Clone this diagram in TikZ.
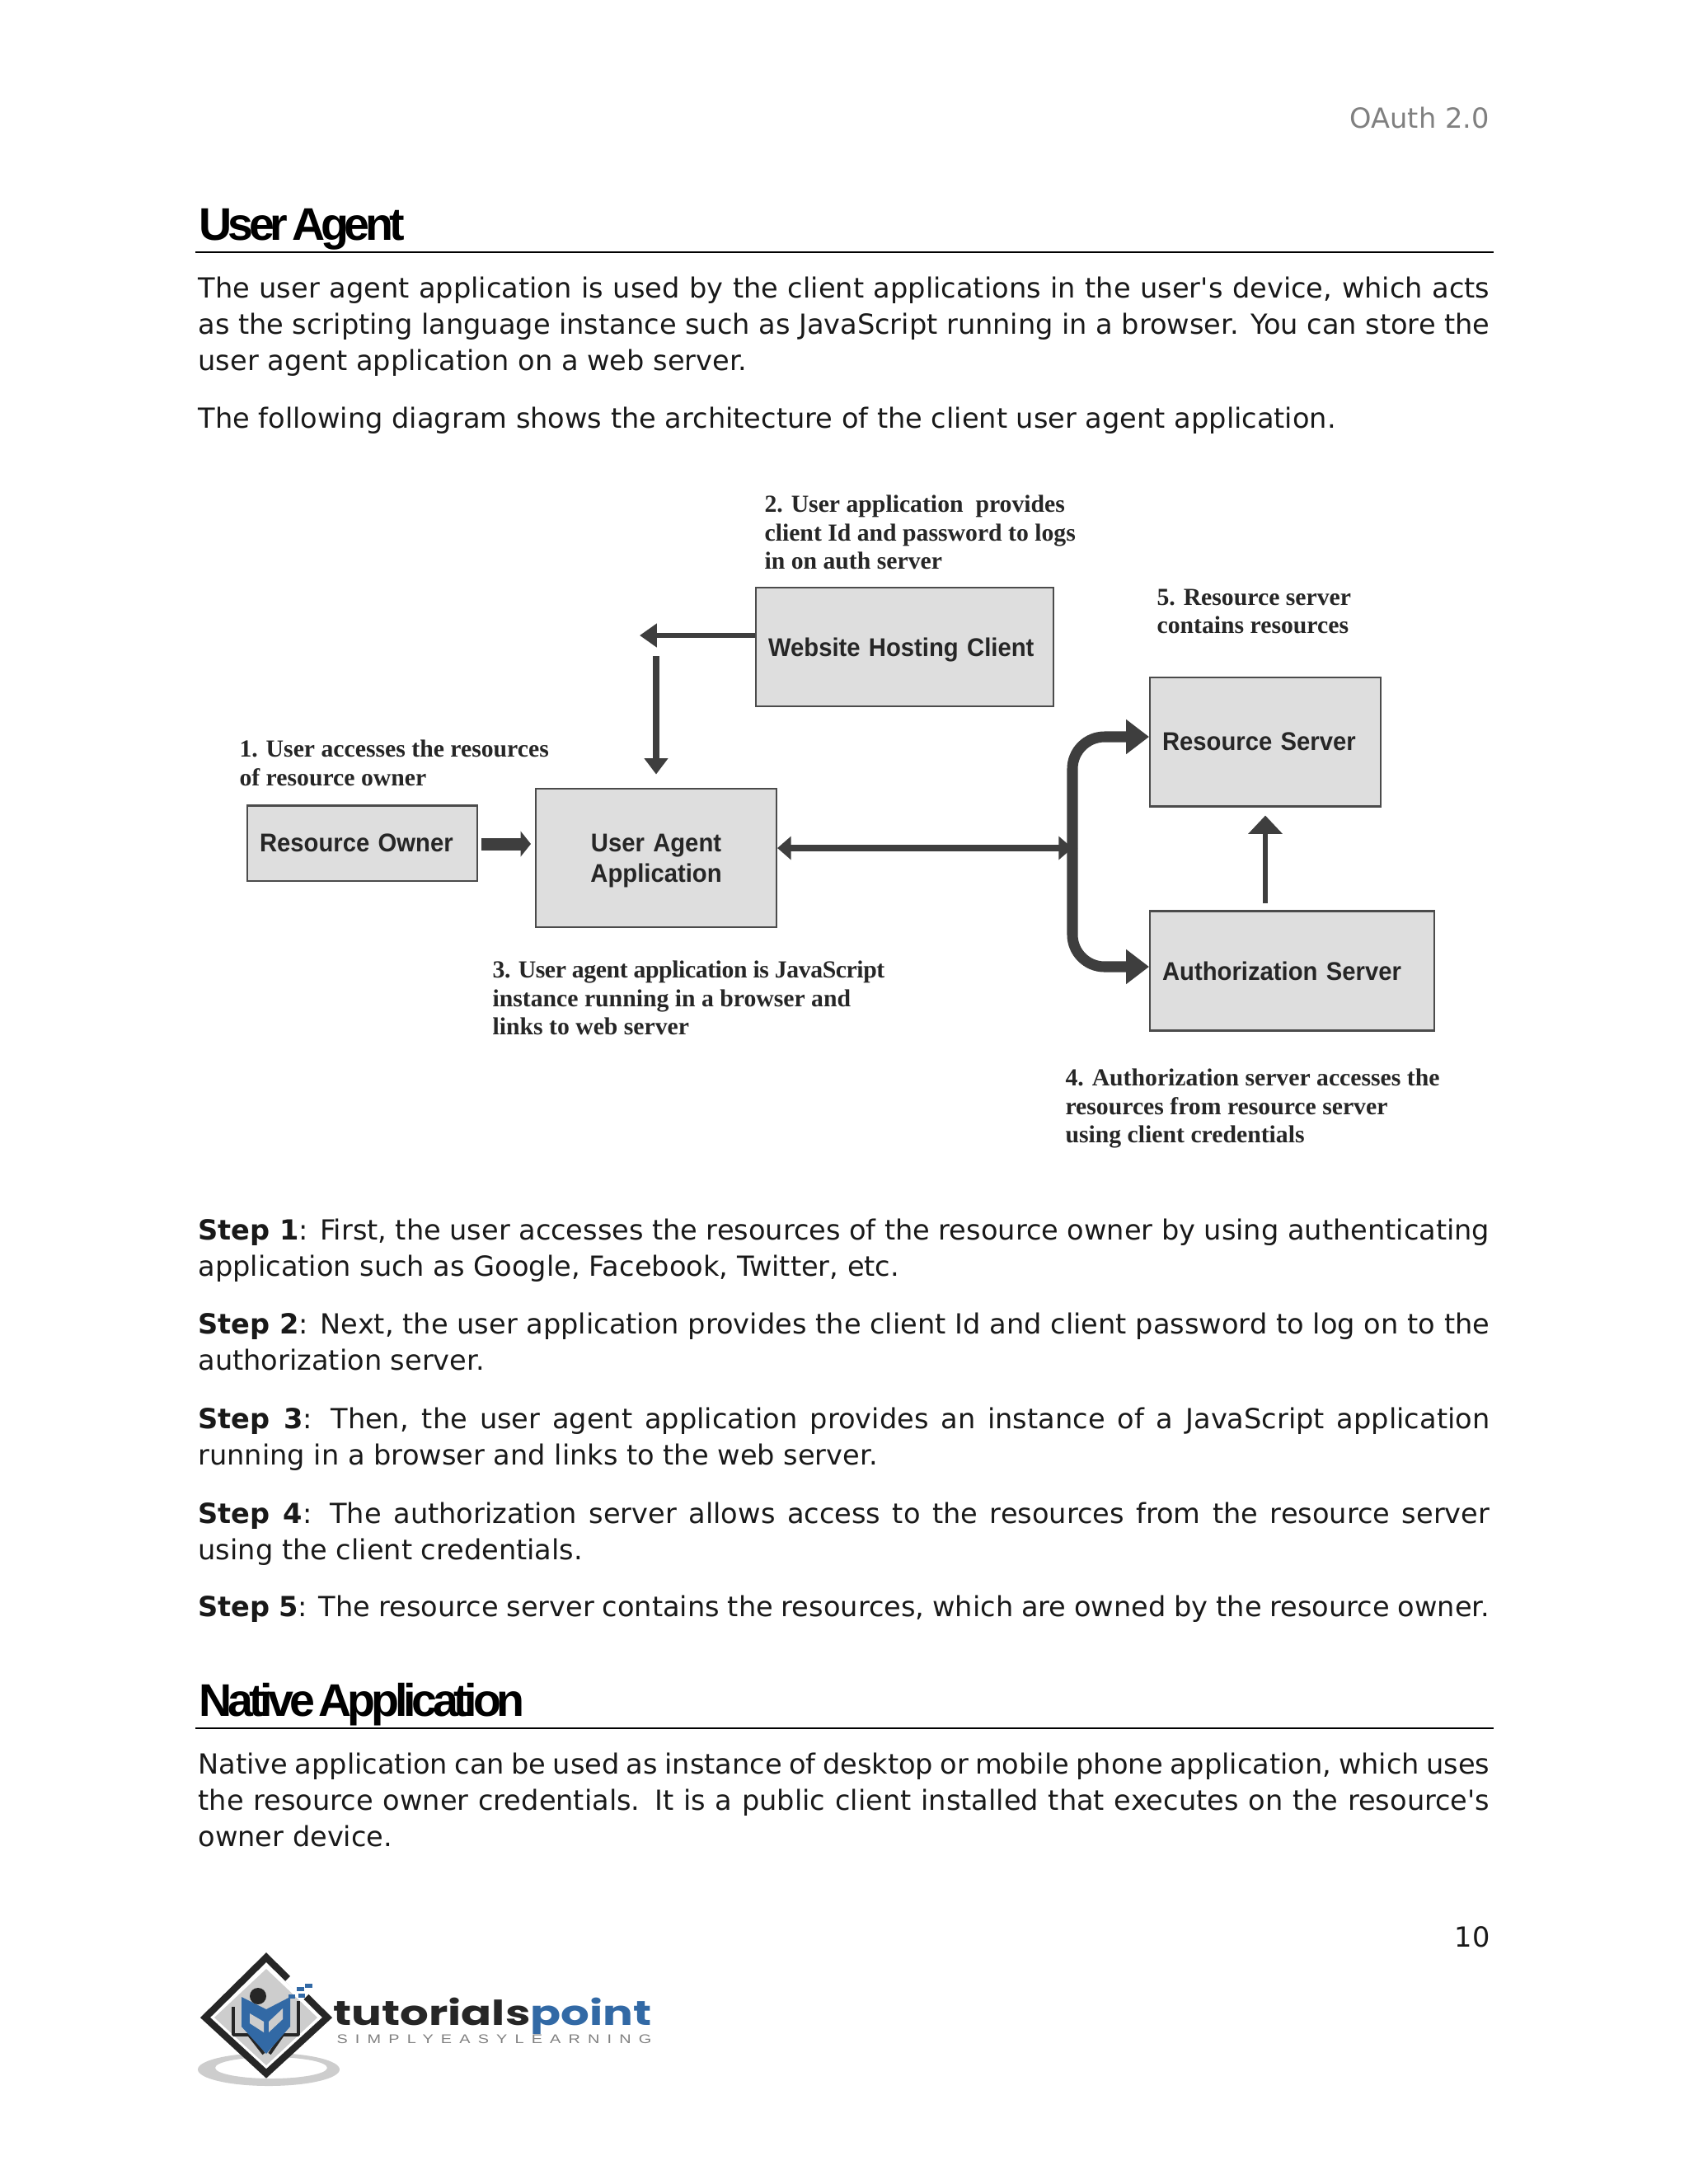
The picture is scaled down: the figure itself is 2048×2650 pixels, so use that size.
\documentclass[tikz,border=0pt]{standalone}
\usepackage{fontspec}
\usepackage{xcolor}
\usetikzlibrary{arrows.meta,positioning,calc}
\setmainfont{DejaVu Sans}[Ligatures=TeXOff]
\newfontfamily\headfont[LetterSpace=-9.5,WordSpace=0.5]{Liberation Sans Bold}
\newfontfamily\boxfont[FakeStretch=0.94]{Liberation Sans Bold}
\newfontfamily\notefont{Liberation Serif Bold}
\newfontfamily\logofont[FakeStretch=1.31]{Poppins Bold}
\newfontfamily\sloganfont[FakeStretch=1.3,LetterSpace=60]{Liberation Sans}
\definecolor{boxfill}{RGB}{222,222,222}
\definecolor{boxline}{RGB}{75,75,75}
\definecolor{arrowgray}{RGB}{62,62,62}
\definecolor{bodyink}{RGB}{25,25,25}
\definecolor{headgray}{RGB}{128,128,128}
\definecolor{logoblue}{RGB}{50,105,165}
\definecolor{logogray}{RGB}{205,205,205}

\begin{document}
\begin{tikzpicture}[x=0.36pt,y=-0.36pt,
          para/.style={anchor=north west,inner sep=0pt,text width=564pt,align=justify,
                       text=bodyink,font=\fontsize{12.1}{15.84}\selectfont},
          heading/.style={anchor=base west,inner sep=0pt,font=\headfont\fontsize{20}{24}\selectfont},
          headrule/.style={line width=0.7pt,black},
          stagebox/.style={draw=boxline,fill=boxfill,line width=0.75pt,anchor=west,inner xsep=5.4pt,inner ysep=0pt,
                        align=left,text=black!85,font=\boxfont\fontsize{11.2}{13.4}\selectfont},
          note/.style={anchor=north west,inner sep=0pt,align=left,text=black!85,
                        font=\notefont\fontsize{10.7}{12.55}\selectfont},
          link/.style={arrowgray,line width=#1}]
  \useasboundingbox (0,0) rectangle (2048,2650);

  % page text
  \node[anchor=base east,inner sep=0pt,text=headgray,font=\fontsize{12.1}{15.84}\selectfont] (runhead) at (1807,155) {OAuth 2.0};
  \node[heading] (useragent) at (241,291) {User Agent};
  \draw[headrule] (237,306) -- (1812,306);
  \node[para] (intro) at (240,335) {The user agent application is used by the client applications in the user's device, which acts\linebreak
    as the scripting language instance such as JavaScript running in a browser. You can store the\linebreak
    user agent application on a web server.};
  \node[para] (lead) at (240,493) {The following diagram shows the architecture of the client user agent application.};

  % diagram boxes
  \node[stagebox,text width=119.2pt,minimum height=51.8pt] (website) at (916,785) {\rule{0pt}{10.5pt}Website Hosting Client};
  \node[stagebox,text width=89.6pt,minimum height=32.8pt] (owner) at (299,1023) {Resource Owner};
  \node[stagebox,text width=94.3pt,minimum height=60.3pt,align=center] (agent) at (649,1041) {\rule{0pt}{10.5pt}User Agent\\Application};
  \node[stagebox,text width=90pt,minimum height=56.5pt] (resource) at (1394,900) {Resource Server};
  \node[stagebox,text width=113.4pt,minimum height=52.2pt] (auth) at (1394,1178) {Authorization Server};

  % diagram notes
  \node[note] (note1) at (290,897) {1. User accesses the resources\\of resource owner};
  \node[note] (note2) at (927,600) {2. User application\ \ provides\\client Id and password to logs\\in on auth server};
  \node[note] (note3) at (597,1165) {{\addfontfeature{LetterSpace=-1.4}3. User agent application is JavaScript}\\instance running in a browser and\\links to web server};
  \node[note] (note4) at (1292,1296) {4. Authorization server accesses the\\resources from resource server\\using client credentials};
  \node[note] (note5) at (1403,714) {5. Resource server\\contains resources};

  % connectors
  \coordinate (leftend) at (776,771);
  \coordinate (downstart) at (796,796);
  \coordinate (hub) at (1301,1029);
  \coordinate (ownerend) at (644,1024);
  \draw[link=2.1pt,-{Triangle[length=7.5pt,width=10pt]}] (website.west |- leftend) -- (leftend);
  \draw[link=2.6pt,-{Triangle[length=7pt,width=10pt]},shorten >=6pt] (downstart) -- (agent.north -| downstart);
  \draw[link=5.4pt,-{Triangle[length=4.5pt,width=11pt]},shorten <=1.6pt] (owner.east |- ownerend) -- (ownerend);
  \draw[link=3pt,{Triangle[length=6pt,width=10pt]}-{Triangle[length=6pt,width=10pt]}] (agent.east |- hub) -- (hub);
  \draw[link=4.7pt,rounded corners=14pt,-{Triangle[length=10pt,width=14.5pt]}] (hub) -- (hub |- 0,894) -- (resource.west |- 0,894);
  \draw[link=4.7pt,rounded corners=14pt,-{Triangle[length=10pt,width=14.5pt]}] (hub) -- (hub |- 0,1173) -- (auth.west |- 0,1173);
  \draw[link=2pt,-{Triangle[length=8pt,width=14.5pt]},shorten <=3pt,shorten >=3.6pt] (auth.north -| resource.south) -- (resource.south);

  % steps
  \node[para] (step1) at (240,1478) {\textbf{Step 1}: First, the user accesses the resources of the resource owner by using authenticating\linebreak application such as Google, Facebook, Twitter, etc.};
  \node[para] (step2) at (240,1592) {\textbf{Step 2}: Next, the user application provides the client Id and client password to log on to the\linebreak authorization server.};
  \node[para] (step3) at (240,1707) {\textbf{Step 3}: Then, the user agent application provides an instance of a JavaScript application\linebreak running in a browser and links to the web server.};
  \node[para] (step4) at (240,1822) {\textbf{Step 4}: The authorization server allows access to the resources from the resource server\linebreak using the client credentials.};
  \node[para] (step5) at (240,1935) {\textbf{Step 5}: The resource server contains the resources, which are owned by the resource owner.};
  \node[heading] (native) at (241,2082) {Native Application};
  \draw[headrule] (237,2097) -- (1812,2097);
  \node[para] (closing) at (240,2126) {Native application can be used as instance of desktop or mobile phone application, which uses\linebreak
    the resource owner credentials. It is a public client installed that executes on the resource's\linebreak
    owner device.};
  \node[anchor=base east,inner sep=0pt,text=bodyink,font=\fontsize{12.1}{15.84}\selectfont] (pagenum) at (1808,2362) {10};

  % logo
  \fill[logogray,even odd rule] (326,2511) ellipse [x radius=86,y radius=20] (329,2509) ellipse [x radius=68,y radius=13];
  \draw[black!85,line width=3pt,fill=white] (323,2375) -- (397,2448) -- (323,2516) -- (249,2448) -- cycle;
  \fill[logogray] (323,2389) -- (385,2448) -- (323,2506) -- (260,2448) -- cycle;
  \draw[black!85,line width=1.4pt,line join=round] (283,2435) -- (283,2469) -- (302,2469) -- (320,2492);
  \draw[black!85,line width=1.4pt,line join=round] (362,2428) -- (362,2469) -- (343,2469) -- (327,2492);
  \fill[logoblue] (293,2423) -- (323,2438) -- (352,2423) -- (352,2459) -- (323,2492) -- (293,2459) -- cycle;
  \fill[logogray] (303,2443) -- (320,2453) -- (320,2466) -- (303,2455) -- cycle;
  \fill[logogray] (343,2437) -- (326,2453) -- (326,2466) -- (343,2450) -- cycle;
  \fill[black!85] (313,2422) circle [radius=10];
  \fill[white] (354,2396) -- (376,2418) -- (368,2426) -- (346,2404) -- cycle;
  \fill[logoblue] (350,2420) rectangle (358,2425);
  \fill[logoblue] (360,2411) rectangle (369,2416);
  \fill[logoblue] (370,2407) rectangle (379,2412);
  \fill[logoblue] (362,2419) rectangle (370,2424);
  \node[anchor=base west,inner sep=0pt,text=black!85,font=\logofont\fontsize{15}{16}\selectfont] (tutorials) at (404,2457) {tutorials\textcolor{logoblue}{point}};
  \node[anchor=base west,inner sep=0pt,text=black!50,font=\sloganfont\fontsize{5.5}{7}\selectfont] (slogan) at (408,2479) {SIMPLYEASYLEARNING};
\end{tikzpicture}
\end{document}
